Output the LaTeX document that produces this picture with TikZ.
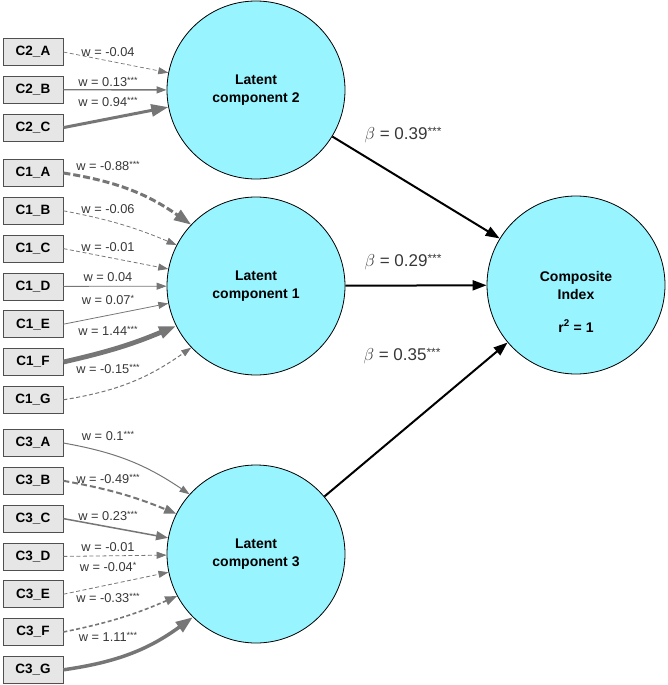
\documentclass[tikz,border=0pt]{standalone}
\usepackage{fontspec}
\setmainfont{Liberation Sans}
\usepackage{graphicx}
\usetikzlibrary{arrows.meta, positioning}

\definecolor{latentcyan}{RGB}{152,245,255}
\definecolor{boxgray}{RGB}{230,230,230}
\definecolor{boxline}{RGB}{80,80,80}
\definecolor{edgegray}{RGB}{118,118,118}
\definecolor{labelgray}{RGB}{55,55,55}

\newcommand{\sig}[1]{\raisebox{0.2em}{\scalebox{0.7}{#1}}}

\begin{document}
\begin{tikzpicture}[
        x=1pt, y=-1pt,
        node distance=10pt,
        indicator/.style={draw=boxline, fill=boxgray, line width=0.8pt, minimum width=60pt, minimum height=27pt, inner sep=0pt, font=\bfseries\fontsize{13.5}{13.5}\selectfont},
        latent/.style={circle, draw=black, fill=latentcyan, line width=0.8pt, minimum size=178pt, inner sep=0pt, align=center, font=\bfseries\fontsize{14}{18}\selectfont},
        wlabel/.style={text=labelgray, inner sep=1pt, font=\fontsize{12.8}{12.8}\selectfont},
        blabel/.style={text=labelgray, inner sep=1pt, font=\fontsize{17}{17}\selectfont},
        wlink/.style={draw=edgegray, line width=#1, -{Triangle[length=10pt, width=7pt]}},
        wlink/.default=0.8pt,
        negwlink/.style={wlink=#1, dash pattern=on 4pt off 2.5pt},
        negwlink/.default=0.8pt,
        midtip/.style={-{Triangle[length=12pt, width=9pt]}},
        bigtip/.style={-{Triangle[length=17pt, width=12pt]}},
        effect/.style={draw=black, line width=2pt, -{Triangle[length=14pt, width=10pt]}}
    ]
    \useasboundingbox (0,0) rectangle (667,685);

    % Latent components and index
    \node [latent](L2) at (256,90) {Latent\\component 2};
    \node [latent](L1) at (256,286) {Latent\\component 1};
    \node [latent](L3) at (256,554) {Latent\\component 3};
    \node [latent](CI) at (576,285) {Composite\\Index};
    \node [font=\bfseries\fontsize{14}{14}\selectfont](R2) at (576,326) {r\textsuperscript{2} = 1};

    % Indicators
    \node [indicator](C2A) at (33,52) {C2\_A};
    \node [indicator](C2B) [below=of C2A] {C2\_B};
    \node [indicator](C2C) [below=of C2B] {C2\_C};

    \node [indicator](C1A) at (33,173) {C1\_A};
    \node [indicator](C1B) [below=of C1A] {C1\_B};
    \node [indicator](C1C) [below=of C1B] {C1\_C};
    \node [indicator](C1D) [below=of C1C] {C1\_D};
    \node [indicator](C1E) [below=of C1D] {C1\_E};
    \node [indicator](C1F) [below=of C1E] {C1\_F};
    \node [indicator](C1G) [below=of C1F] {C1\_G};

    \node [indicator](C3A) at (33,443) {C3\_A};
    \node [indicator](C3B) [below=of C3A] {C3\_B};
    \node [indicator](C3C) [below=of C3B] {C3\_C};
    \node [indicator](C3D) [below=of C3C] {C3\_D};
    \node [indicator](C3E) [below=of C3D] {C3\_E};
    \node [indicator](C3F) [below=of C3E] {C3\_F};
    \node [indicator](C3G) [below=of C3F] {C3\_G};

    % Weights into latent component 2
    \draw [negwlink=0.7pt] (C2A.east) -- (L2);
    \draw [wlink=1.3pt] (C2B.east) -- (L2);
    \draw [wlink=3pt, bigtip] (C2C.east) -- (L2);

    % Weights into latent component 1
    \draw [negwlink=3pt, dash pattern=on 7pt off 3pt, bigtip] (C1A.east) to[bend left=13] (L1);
    \draw [negwlink] (C1B.east) to[bend left=6] (L1);
    \draw [negwlink] (C1C.east) -- (L1);
    \draw [wlink] (C1D.east) -- (L1);
    \draw [wlink] (C1E.east) -- (L1);
    \draw [wlink=4.8pt, bigtip] (C1F.east) to[bend right=5] (L1);
    \draw [negwlink=1pt] (C1G.east) to[bend right=13] (L1);

    % Weights into latent component 3
    \draw [wlink=1pt] (C3A.east) to[bend left=12] (L3);
    \draw [negwlink=2pt, dash pattern=on 6pt off 3pt, midtip] (C3B.east) to[bend left=6] (L3);
    \draw [wlink=1.5pt, midtip] (C3C.east) -- (L3);
    \draw [negwlink] (C3D.east) -- (L3);
    \draw [negwlink] (C3E.east) -- (L3);
    \draw [negwlink=1.6pt, midtip] (C3F.east) to[bend right=6] (L3);
    \draw [wlink=3.5pt, bigtip] (C3G.east) to[bend right=14] (L3);

    % Weight labels
    \node [wlabel](wC2A) at (108,52) {w = -0.04};
    \node [wlabel](wC2B) at (108,82) {w = 0.13\sig{***}};
    \node [wlabel](wC2C) at (108,102) {w = 0.94\sig{***}};
    \node [wlabel](wC1A) at (108,166) {w = -0.88\sig{***}};
    \node [wlabel](wC1B) at (108,209) {w = -0.06};
    \node [wlabel](wC1C) at (108,247) {w = -0.01};
    \node [wlabel](wC1D) at (108,277) {w = 0.04};
    \node [wlabel](wC1E) at (108,300) {w = 0.07\sig{*}};
    \node [wlabel](wC1F) at (108,331) {w = 1.44\sig{***}};
    \node [wlabel](wC1G) at (108,369) {w = -0.15\sig{***}};
    \node [wlabel](wC3A) at (108,436) {w = 0.1\sig{***}};
    \node [wlabel](wC3B) at (108,479) {w = -0.49\sig{***}};
    \node [wlabel](wC3C) at (108,516) {w = 0.23\sig{***}};
    \node [wlabel](wC3D) at (108,547) {w = -0.01};
    \node [wlabel](wC3E) at (108,567) {w = -0.04\sig{*}};
    \node [wlabel](wC3F) at (108,598) {w = -0.33\sig{***}};
    \node [wlabel](wC3G) at (108,637) {w = 1.11\sig{***}};

    % Paths to the composite index
    \draw [effect] (L2) -- (CI);
    \draw [effect] (L1) -- (CI);
    \draw [effect] (L3) -- (CI);
    \node [blabel](bL2) at (403,135) {$\beta$ = 0.39\sig{***}};
    \node [blabel](bL1) at (403,262) {$\beta$ = 0.29\sig{***}};
    \node [blabel](bL3) at (402,356) {$\beta$ = 0.35\sig{***}};

\end{tikzpicture}
\end{document}
